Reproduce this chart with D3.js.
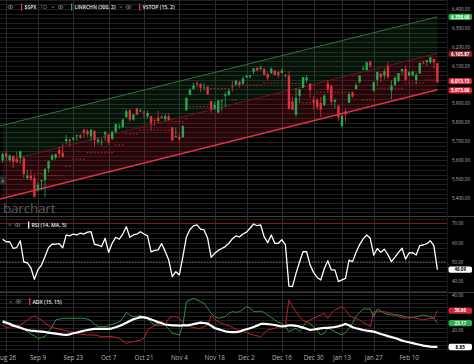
<!DOCTYPE html>
<html><head><meta charset="utf-8">
<script src="https://cdn.jsdelivr.net/npm/d3@7"></script>
<style>html,body{margin:0;padding:0;background:#000;} svg{display:block;font-family:"Open Sans",sans-serif;}</style>
</head><body>
<svg id="c" width="474" height="364"></svg>
<script>
// ---------------- DATA ----------------
const dates = ["2024-08-23","2024-08-26","2024-08-27","2024-08-28","2024-08-29","2024-08-30",
"2024-09-03","2024-09-04","2024-09-05","2024-09-06","2024-09-09","2024-09-10","2024-09-11","2024-09-12","2024-09-13","2024-09-16","2024-09-17","2024-09-18","2024-09-19","2024-09-20","2024-09-23","2024-09-24","2024-09-25","2024-09-26","2024-09-27","2024-09-30",
"2024-10-01","2024-10-02","2024-10-03","2024-10-04","2024-10-07","2024-10-08","2024-10-09","2024-10-10","2024-10-11","2024-10-14","2024-10-15","2024-10-16","2024-10-17","2024-10-18","2024-10-21","2024-10-22","2024-10-23","2024-10-24","2024-10-25","2024-10-28","2024-10-29","2024-10-30","2024-10-31",
"2024-11-01","2024-11-04","2024-11-05","2024-11-06","2024-11-07","2024-11-08","2024-11-11","2024-11-12","2024-11-13","2024-11-14","2024-11-15","2024-11-18","2024-11-19","2024-11-20","2024-11-21","2024-11-22","2024-11-25","2024-11-26","2024-11-27","2024-11-29",
"2024-12-02","2024-12-03","2024-12-04","2024-12-05","2024-12-06","2024-12-09","2024-12-10","2024-12-11","2024-12-12","2024-12-13","2024-12-16","2024-12-17","2024-12-18","2024-12-19","2024-12-20","2024-12-23","2024-12-24","2024-12-26","2024-12-27","2024-12-30","2024-12-31",
"2025-01-02","2025-01-03","2025-01-06","2025-01-07","2025-01-08","2025-01-10","2025-01-13","2025-01-14","2025-01-15","2025-01-16","2025-01-17","2025-01-21","2025-01-22","2025-01-23","2025-01-24","2025-01-27","2025-01-28","2025-01-29","2025-01-30","2025-01-31",
"2025-02-03","2025-02-04","2025-02-05","2025-02-06","2025-02-07","2025-02-10","2025-02-11","2025-02-12","2025-02-13","2025-02-14","2025-02-18","2025-02-19","2025-02-20","2025-02-21"];

const open = [5602,5639,5602,5624,5607,5612,
5612,5506,5520,5507,5443,5490,5496,5557,5604,5615,5655,5641,5703,5709,5711,5728,5733,5762,5756,5727,
5757,5698,5698,5737,5737,5714,5751,5778,5775,5829,5866,5816,5875,5859,5857,5832,5834,5815,5826,5830,5819,5833,5775,
5723,5725,5722,5864,5947,5976,6008,6003,5985,5989,5913,5874,5853,5915,5942,5944,5992,6000,6015,6004,
6040,6042,6069,6089,6082,6083,6057,6060,6074,6068,6063,6052,6048,5912,5842,5941,5985,6025,6006,5920,5920,
5904,5891,6007,5993,5910,5890,5782,5859,5905,5958,5977,6014,6081,6077,6121,5969,6026,6058,6050,6096,
5969,5999,6021,6072,6084,6048,6050,6025,6060,6116,6121,6117,6135,6114];
const high = [5641,5652,5631,5627,5646,5651,
5623,5552,5552,5523,5484,5497,5560,5600,5636,5636,5671,5690,5734,5716,5725,5736,5741,5767,5765,5765,
5758,5720,5718,5753,5739,5757,5796,5795,5823,5871,5871,5846,5878,5872,5866,5863,5834,5817,5862,5842,5848,5851,5775,
5772,5741,5783,5936,5983,6012,6018,6009,6008,5993,5915,5908,5920,5921,5963,5972,6020,6026,6020,6044,
6053,6052,6087,6093,6100,6089,6065,6092,6080,6078,6085,6057,6071,5935,5982,5979,6041,6050,6007,5940,5929,
5935,5949,6022,6000,5927,5890,5843,5871,5960,5964,6011,6051,6100,6119,6128,6017,6069,6063,6086,6120,
6022,6043,6062,6084,6101,6073,6076,6063,6117,6128,6129,6147,6137,6115];
const low = [5590,5602,5590,5560,5585,5581,
5508,5503,5490,5403,5434,5442,5406,5535,5602,5604,5614,5615,5684,5674,5704,5702,5713,5721,5725,5703,
5675,5683,5677,5702,5683,5706,5745,5764,5773,5825,5804,5808,5840,5857,5824,5821,5762,5784,5799,5823,5804,5811,5703,
5723,5696,5722,5864,5947,5976,5986,5961,5970,5946,5853,5865,5850,5860,5883,5944,5964,5993,5985,6003,
6035,6033,6056,6072,6077,6048,6024,6059,6050,6036,6059,6035,5867,5867,5832,5902,5982,6007,5932,5869,5868,
5829,5889,5960,5890,5874,5809,5773,5803,5904,5931,5977,6006,6076,6075,6089,5962,5995,6012,6028,6030,
5924,5991,6012,6052,6020,6045,6043,6003,6057,6107,6100,6111,6084,6008];
const close = [5634.61,5616.84,5625.80,5592.18,5591.96,5648.40,
5528.93,5520.07,5503.41,5408.42,5471.05,5495.52,5554.13,5595.76,5626.02,5633.09,5634.58,5618.26,5713.64,5702.55,5718.57,5732.93,5722.26,5745.37,5738.17,5762.48,
5708.75,5709.54,5699.94,5751.07,5695.94,5751.13,5792.04,5780.05,5815.03,5859.85,5815.26,5842.47,5841.47,5864.67,5853.98,5851.20,5797.42,5809.86,5808.12,5823.52,5832.92,5813.67,5705.45,
5728.80,5712.69,5782.76,5929.04,5973.10,5995.54,6001.35,5983.99,5985.38,5949.17,5870.62,5893.62,5916.98,5917.11,5948.71,5969.34,5987.37,6021.63,5998.74,6032.38,
6047.15,6049.88,6086.49,6075.11,6090.27,6052.85,6034.91,6084.19,6051.25,6051.09,6074.08,6050.61,5872.16,5867.08,5930.85,5974.07,6040.04,6037.59,5970.84,5906.94,5881.63,
5868.55,5942.47,5975.38,5909.03,5918.25,5827.04,5836.22,5842.91,5949.91,5937.34,5996.66,6049.24,6086.37,6118.71,6101.24,6012.28,6067.70,6039.31,6071.17,6040.53,
5994.57,6037.88,6061.48,6083.57,6025.99,6066.44,6068.50,6051.97,6115.07,6114.63,6129.58,6144.15,6117.52,6013.13];

const vstop = [5500,5500,5500,5500,5500,5500,5500,5500,5500,
5530,5530,5530,5520,5520,5520,5520,5520,5520,5570,5570,5608,5608,5608,5608,
5641,5641,5641,5641,5641,5641,5641,5641,5682,5682,5682,5740,5740,5740,5740,
5761,5761,5761,5761,5761,5761,5761,5761,5761,5805,5805,5805,5805,5820,
5884,5884,5884,5884,5884,5884,5980,5980,5980,5980,5980,5980,5920,5920,
5998,5998,5998,5998,5998,5998,5998,6009,6009,6009,6009,6009,6009,6009,
6007,6007,6007,6007,5905,5905,5905,5905,
5960,5960,5960,5960,5960,5960,5960,5960,5960,5960,5960,5867,5867,5919,5919,5919,5919,
5982,5982,5982,5982,5982,5982,5982,5982,6009,6009,6009,6009,6009,6009,6025,6025,6025,6025];

// linear regression channel (first bar, last bar)
const chanUpper = [5785.7, 6358.68];
const chanMid   = [5592.9, 6165.87];
const chanLower = [5400.0, 5973.06];

const rsi = [61.8,60.5,60.5,57,57.5,61,50,49.5,47,41,
46,48.4,52.8,57.5,59.2,59.3,59.5,57.4,64,63.5,
64.5,64,65,64.5,65.5,65.7,59.2,58.8,58,62.3,
55,59.7,62.8,61.8,64.5,68.3,62.8,64,64.5,65.7,
64.5,63.5,55.3,56,56.3,59.5,55.5,51,42.4,45,
43.3,52.8,63,66.8,68.7,69.2,67,66.6,62.3,52.4,
54.5,56,57,58,59.7,62,63.5,63,64.5,65.5,
67.5,69.7,68.8,69.2,63,60,64,59.7,59.7,61.5,
59,37.5,37.2,44.1,50,55.3,55.3,48.4,44.5,42,
40.7,46.5,50.7,45.9,45.9,39.8,40.7,41.5,51,50.2,
55,59,62,64,62.3,53.6,57,55,56.6,53.8,
50.2,52.5,55,57.1,51.5,54.8,54.8,53.6,58.5,58.8,
59.5,61,58.5,46.09];

const adx = [24,23.3,22.6,21.6,21,20.3,19.6,19,18.6,18.4,
18.2,18,17.8,17.4,17.1,16.8,16.5,16.2,16,16.4,
17,17.5,18,18.5,19,19.4,19.6,19.6,19.6,19.6,
19.7,20,20.6,21.4,22.3,23.3,24.4,25.4,26,26.7,
26.6,26.1,25.3,24.5,23.7,23,22.3,22,21.8,21.7,
21.6,21.7,21.8,22,22.5,23,23.4,23.2,22.8,21.5,
20.2,19.5,18.8,18.2,17.9,17.7,17.7,18,18.8,19.4,
20,20.8,21.6,22.6,22.6,22.5,22.3,22,21.5,21.1,
21.3,21.8,21.8,21.5,21,20.4,19.7,19,19.3,19.7,
20,20.2,20.3,20.5,20.8,21.2,21.8,22.6,21.8,20.6,
20,19.5,19,18.6,18.3,18,17.3,16.6,16,15.3,
14.7,14.2,13.4,12.6,12.1,11.6,11.1,10.6,10.1,9.6,
9.3,9.0,8.9,8.85];

const plusDI = [25,24,23.3,22.4,21.5,21,19.6,18,16.5,15.5,
14,14.5,15,18,21,25,25.5,26,26,26,
26,26,26,26,25.5,24.6,22.5,21,21,21,
21.5,22.4,23,24,26,29.6,28,27,27.3,27.6,
27,26,23.5,22,23,24,22,19.5,17,16.5,
16,22,36,37,38,37,36,35,32,29,
27,26,26.5,27,29,30,29.6,30,31.5,33,
32,30,30,30.4,29.5,28,26.5,25,23.5,23,
21,18,19,20,18,21,24,22.5,21,18.5,
16,17,20,19,18,17,16,17.5,20,23,
27,29.5,31.6,31.6,31.6,27,31.6,30.5,29,28.5,
28,28,28,27.5,27,26,26.5,27,27.5,28,
27.5,27,26,23.17];

const minusDI = [22,20.5,20.8,21,21.5,22,23.4,25,26.4,27.6,
26,25,23,21.6,20.5,20,19.5,19,18.5,18,
17.5,17,16.4,16.2,16,16,16,15.5,15,15,
15,15,14.5,14,12.5,11,11.5,12,12.5,13,
14,19,20.5,21.6,21.6,21.6,22,26,27,27,
26,23.5,21.5,21,20.5,20,20,21,22,27.5,
25.5,24,23,22,21.6,20.5,19.5,18.5,18,17.5,
16.5,16,15.5,15,17,19,19.5,20,21,21.5,
22,37,33,30,27,24.5,24,25,26,27,
28,29,26,29,31,32,33,31,28,26.5,
26,25,23.5,22.5,21,30,30,30,30,29.5,
29,28,27,26.5,26,27,26.5,26,25.5,25,
25.5,26,26,30.66];

const xTickDates = ["2024-08-26","2024-09-09","2024-09-23","2024-10-07","2024-10-21","2024-11-04","2024-11-18","2024-12-02","2024-12-16","2024-12-30","2025-01-13","2025-01-27","2025-02-10"];
const xTickLabels = ["Aug 26","Sep 9","Sep 23","Oct 7","Oct 21","Nov 4","Nov 18","Dec 2","Dec 16","Dec 30","Jan 13","Jan 27","Feb 10"];
const priceTicks = [5400,5500,5600,5700,5800,5900,6100,6200,6300,6400];
const rsiTicks = [40,50,60,70];
const adxTicks = [40];

// ---------------- LAYOUT ----------------
const W = 474, H = 364, plotR = 447;
const P = {top:0, bot:216}, R = {top:216, bot:292}, A = {top:292, bot:352};
const svg = d3.select("#c");
svg.append("rect").attr("width",W).attr("height",H).attr("fill","#000");
const defs = svg.append("defs");
function clip(id, t, b){ defs.append("clipPath").attr("id",id).append("rect").attr("x",0).attr("y",t).attr("width",plotR).attr("height",b-t); }
clip("cp",P.top,P.bot); clip("cr",R.top,R.bot); clip("ca",A.top,A.bot);

const x = d3.scalePoint().domain(dates).range([2.6,437.4]);
const yP = d3.scaleLinear().domain([5400,6400]).range([198.3,9]);
const yR = d3.scaleLinear().domain([40,70]).range([281.3,223.4]);
const yA = d3.scaleLinear().domain([20,40]).range([328.3,295]);

const GRID = "#1f1f1f", VGRID = "#2b2b2b", TXT = "#b5b5b5";
const GREEN = "#27a653", RED = "#e0313f";

// horizontal dense grids
function hgrid(scale, lo, hi, step, pan){
  const g = svg.append("g");
  for(let v=lo; v<=hi+1e-9; v+=step){
    const yy = Math.round(scale(v))+0.5;
    if(yy>pan.top && yy<pan.bot) g.append("line").attr("x1",0).attr("x2",plotR).attr("y1",yy).attr("y2",yy).attr("stroke",GRID).attr("stroke-width",1);
  }
}
hgrid(yP,5300,6500,25,P);
hgrid(yR,30,80,2.5,R);
hgrid(yA,0,50,2.5,A);

// vertical grid at tick dates
svg.append("g").selectAll("line").data(xTickDates).join("line")
  .attr("x1",d=>Math.round(x(d))+0.5).attr("x2",d=>Math.round(x(d))+0.5)
  .attr("y1",0).attr("y2",A.bot).attr("stroke",VGRID);

// panel separators
[R.top, A.top].forEach(yy=>svg.append("line").attr("x1",0).attr("x2",W).attr("y1",yy+0.5).attr("y2",yy+0.5).attr("stroke","#3d3d3d"));
svg.append("line").attr("x1",plotR+0.5).attr("x2",plotR+0.5).attr("y1",0).attr("y2",A.bot).attr("stroke","#1a1a1a");

// ---------------- PRICE PANEL ----------------
const gp = svg.append("g").attr("clip-path","url(#cp)");
const x0 = x(dates[0]), x1 = x(dates[dates.length-1]);
gp.append("path").attr("d",`M${x0},${yP(chanUpper[0])}L${x1},${yP(chanUpper[1])}L${x1},${yP(chanMid[1])}L${x0},${yP(chanMid[0])}Z`)
  .attr("fill","rgba(40,150,70,0.13)");
gp.append("path").attr("d",`M${x0},${yP(chanMid[0])}L${x1},${yP(chanMid[1])}L${x1},${yP(chanLower[1])}L${x0},${yP(chanLower[0])}Z`)
  .attr("fill","rgba(190,30,45,0.2)");
function chanLine(arr, col, w){
  const slope = (yP(arr[1])-yP(arr[0]))/(x1-x0);
  gp.append("line").attr("x1",0).attr("x2",x1).attr("y1",yP(arr[0])-slope*x0).attr("y2",yP(arr[1])).attr("stroke",col).attr("stroke-width",w);
}
chanLine(chanUpper,"#2f7f45",0.9);
chanLine(chanMid,"#6e1822",0.9);
chanLine(chanLower,"#e2304a",1.5);

// VSTOP dots
gp.append("g").selectAll("rect").data(dates).join("rect")
  .attr("x",(d)=>x(d)-1).attr("y",(d,i)=>yP(vstop[i])-0.5).attr("width",1.8).attr("height",1.1)
  .attr("fill","#a3202c");

// candles
const bw = 2.4;
const cg = gp.append("g");
dates.forEach((d,i)=>{
  const up = close[i] >= open[i];
  const col = up ? GREEN : RED;
  const cx = x(d);
  cg.append("line").attr("x1",cx).attr("x2",cx).attr("y1",yP(high[i])).attr("y2",yP(low[i])).attr("stroke",col).attr("stroke-width",0.8);
  const t = yP(Math.max(open[i],close[i])), b = yP(Math.min(open[i],close[i]));
  cg.append("rect").attr("x",cx-bw/2).attr("y",t).attr("width",bw).attr("height",Math.max(0.8,b-t)).attr("fill",col);
});

// watermark
svg.append("text").attr("x",3).attr("y",213).text("barchart").attr("fill","#5c5c5c").attr("font-size",13.5).attr("font-weight",400).attr("letter-spacing",-0.2);
// collapse button
svg.append("rect").attr("x",0).attr("y",176.5).attr("width",7).attr("height",8).attr("fill","#2a2a2a");
svg.append("text").attr("x",1.5).attr("y",183).text("›").attr("fill","#ddd").attr("font-size",8);

// axis label helper (fit width like the reference)
function axisLabels(ticks, scale, fmt){
  svg.append("g").selectAll("text").data(ticks).join("text")
    .attr("x",452).attr("y",d=>scale(d)+1.8).text(d=>fmt(d))
    .attr("fill",TXT).attr("font-size",5.4)
    .attr("textLength",d=>fmt(d).length*2.25).attr("lengthAdjust","spacingAndGlyphs");
}
axisLabels(priceTicks, yP, d3.format(",.2f"));

// ---------------- RSI PANEL ----------------
const gr = svg.append("g").attr("clip-path","url(#cr)");
gr.append("line").attr("x1",0).attr("x2",plotR).attr("y1",yR(70)).attr("y2",yR(70)).attr("stroke","#7a1e1e").attr("stroke-width",1);
gr.append("line").attr("x1",0).attr("x2",plotR).attr("y1",yR(50)).attr("y2",yR(50)).attr("stroke","#8a8a8a").attr("stroke-width",0.8).attr("stroke-dasharray","1.5,1.5");
gr.append("path").datum(rsi).attr("d",d3.line().x((d,i)=>x(dates[i])).y(d=>yR(d))).attr("fill","none").attr("stroke","#fff").attr("stroke-width",1.3).attr("stroke-linejoin","round");
axisLabels(rsiTicks, yR, d3.format(".2f"));

// ---------------- ADX PANEL ----------------
const ga = svg.append("g").attr("clip-path","url(#ca)");
const lineA = d3.line().x((d,i)=>x(dates[i])).y(d=>yA(d));
ga.append("path").datum(plusDI).attr("d",lineA).attr("fill","none").attr("stroke","#2e8f45").attr("stroke-width",1);
ga.append("path").datum(minusDI).attr("d",lineA).attr("fill","none").attr("stroke","#c41f2e").attr("stroke-width",1);
ga.append("path").datum(adx).attr("d",lineA).attr("fill","none").attr("stroke","#fff").attr("stroke-width",2.2).attr("stroke-linejoin","round");
axisLabels(adxTicks, yA, d3.format(".2f"));

// ---------------- X AXIS ----------------
svg.append("g").selectAll("text").data(xTickDates).join("text")
  .attr("x",d=>x(d)).attr("y",359.5).attr("text-anchor","middle").text((d,i)=>xTickLabels[i]).attr("fill",TXT).attr("font-size",6.3);

// ---------------- BADGES ----------------
function badge(yv, label, bg, fg){
  const g = svg.append("g");
  g.append("rect").attr("x",448.5).attr("y",yv-3).attr("width",23.5).attr("height",6.3).attr("rx",1.8).attr("fill",bg);
  g.append("text").attr("x",460.2).attr("y",yv+1.8).attr("text-anchor","middle").text(label).attr("fill",fg).attr("font-size",5.2).attr("font-weight",700)
   .attr("textLength",label.length*2.3).attr("lengthAdjust","spacingAndGlyphs");
}
badge(yP(chanUpper[1]), d3.format(",.2f")(chanUpper[1]), "#2bb04e", "#fff");
badge(yP(chanMid[1])+0.4, d3.format(",.2f")(chanMid[1]), "#8c1b24", "#fff");
badge(yP(close[close.length-1])-1.2, d3.format(",.2f")(close[close.length-1]), "#d3283a", "#fff");
badge(yP(chanLower[1])+0.5, d3.format(",.2f")(chanLower[1]), "#e8213a", "#fff");
badge(yR(rsi[rsi.length-1]), d3.format(".2f")(rsi[rsi.length-1]), "#fff", "#000");
badge(yA(minusDI[minusDI.length-1]), d3.format(".2f")(minusDI[minusDI.length-1]), "#d3283a", "#fff");
badge(yA(plusDI[plusDI.length-1]), d3.format(".2f")(plusDI[plusDI.length-1]), "#2bb04e", "#fff");
badge(yA(adx[adx.length-1]), d3.format(".2f")(adx[adx.length-1]), "#fff", "#000");
// "20.00" tick peeking below the +DI badge, as in the reference
svg.append("text").attr("x",452).attr("y",yA(20)+3.6).text("20.00").attr("fill",TXT).attr("font-size",5.4)
  .attr("textLength",11.3).attr("lengthAdjust","spacingAndGlyphs");

// ---------------- LEGENDS ----------------
function icons(g, xs, y, withX){
  if(withX) g.append("text").attr("x",xs).attr("y",y+2).text("×").attr("fill","#8a8a8a").attr("font-size",6);
  const ex = xs + (withX?7:0);
  g.append("ellipse").attr("cx",ex+2.5).attr("cy",y).attr("rx",2.6).attr("ry",1.6).attr("fill","none").attr("stroke","#9a9a9a").attr("stroke-width",0.6);
  g.append("circle").attr("cx",ex+2.5).attr("cy",y).attr("r",0.8).attr("fill","#9a9a9a");
  g.append("text").attr("x",ex+6).attr("y",y-0.5).text("···").attr("fill","#777").attr("font-size",4);
}
function legendItem(xs, y, color, label, len, withX, extra){
  const g = svg.append("g");
  icons(g, xs, y, withX);
  const bx = xs + (withX?20:13);
  g.append("rect").attr("x",bx).attr("y",y-3.5).attr("width",1.3).attr("height",7).attr("fill",color);
  g.append("text").attr("x",bx+3.5).attr("y",y+2).attr("fill","#f2f2f2").attr("font-size",5.6).attr("font-weight",600)
    .attr("textLength",len).attr("lengthAdjust","spacingAndGlyphs").text(label);
  if(extra) g.append("text").attr("x",bx+18).attr("y",y+2).attr("fill","#8a8a8a").attr("font-size",5.2).text(extra);
}
legendItem(8, 7, RED, "$SPX", 12, false, "·1D·");
legendItem(51, 7, GREEN, "LINRCHN (300, 2)", 41, true);
legendItem(119, 7, RED, "VSTOP (15, 2)", 32, true);
legendItem(8, 225, "#fff", "RSI (14, MA, 5)", 35, true);
legendItem(9, 301.5, RED, "ADX (15, 15)", 29, true);
</script>
</body></html>
